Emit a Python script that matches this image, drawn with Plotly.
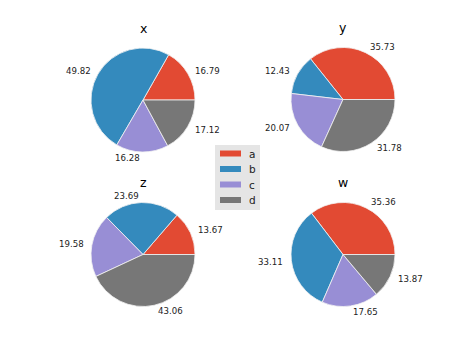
import math
import plotly.graph_objects as go

categories = ["a", "b", "c", "d"]
titles = ["x", "y", "z", "w"]
values_x = [16.79, 49.82, 16.28, 17.12]
values_y = [35.73, 12.43, 20.07, 31.78]
values_z = [13.67, 23.69, 19.58, 43.06]
values_w = [35.36, 33.11, 17.65, 13.87]
series = [values_x, values_y, values_z, values_w]

colors = ["#E24A33", "#348ABD", "#988ED5", "#777777"]

W, H = 474, 355
# pie centres (px) and radius (px)
centers = [(143, 100), (343, 99.5), (143, 254.5), (343, 254.5)]
R = 52

fig = go.Figure()
annotations = []
shapes = []
for i, (vals, title, (cx, cy)) in enumerate(zip(series, titles, centers)):
    total = sum(vals)
    dom_x = [(cx - R) / W, (cx + R) / W]
    dom_y = [1 - (cy + R) / H, 1 - (cy - R) / H]
    # plotly places the first slice clockwise of `rotation` when counterclockwise;
    # shift so the first wedge starts at 3 o'clock like matplotlib
    fig.add_trace(go.Pie(
        labels=categories, values=vals, sort=False,
        direction="counterclockwise", rotation=90 - 360.0 * vals[0] / total,
        marker=dict(colors=colors, line=dict(color="#F2F2F2", width=0.8)),
        textinfo="none", hoverinfo="label+value",
        domain=dict(x=dom_x, y=dom_y),
        showlegend=False, name=title,
    ))
    start = 0.0
    for v in vals:
        mid = start + 360.0 * v / total / 2
        start += 360.0 * v / total
        th = math.radians(mid)
        px = cx + 1.12 * R * math.cos(th)
        py = cy - 1.12 * R * math.sin(th)
        annotations.append(dict(
            x=px / W, y=1 - py / H, xref="paper", yref="paper",
            text=f"{v:.2f}", showarrow=False,
            xanchor="left" if math.cos(th) > 0 else "right", yanchor="middle",
            font=dict(family="DejaVu Sans", size=8.6, color="#222222"),
        ))
    annotations.append(dict(
        x=cx / W, y=1 - (cy - R - 20) / H, xref="paper", yref="paper",
        text=title, showarrow=False, xanchor="center", yanchor="middle",
        font=dict(family="DejaVu Sans", size=12.5, color="#000000"),
    ))

# legend (drawn manually to get matplotlib-style rectangular patches)
LX0, LY0, LX1, LY1 = 215, 145, 260, 210
shapes.append(dict(type="rect", xref="paper", yref="paper",
                   x0=LX0 / W, x1=LX1 / W, y0=1 - LY1 / H, y1=1 - LY0 / H,
                   fillcolor="#E5E5E5", line=dict(width=0), layer="above"))
for k, (cat, col) in enumerate(zip(categories, colors)):
    yc = 153.5 + k * 15.5
    shapes.append(dict(type="rect", xref="paper", yref="paper",
                       x0=220 / W, x1=241 / W, y0=1 - (yc + 3) / H, y1=1 - (yc - 3) / H,
                       fillcolor=col, line=dict(width=0), layer="above"))
    annotations.append(dict(
        x=247 / W, y=1 - yc / H, xref="paper", yref="paper",
        text=cat, showarrow=False, xanchor="left", yanchor="middle",
        font=dict(family="DejaVu Sans", size=10.5, color="#222222"),
    ))

fig.update_layout(
    width=W, height=H,
    margin=dict(l=0, r=0, t=0, b=0),
    paper_bgcolor="white", plot_bgcolor="white",
    annotations=annotations, shapes=shapes, showlegend=False,
)
fig.write_html("out.html")
